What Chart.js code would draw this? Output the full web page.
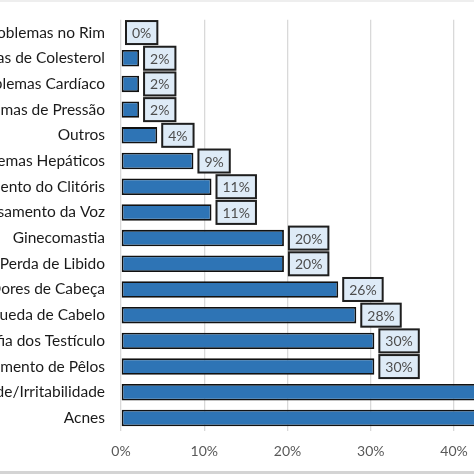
<!DOCTYPE html>
<html>
<head>
<meta charset="utf-8">
<script src="https://cdn.jsdelivr.net/npm/chart.js@4.4.1/dist/chart.umd.min.js"></script>
<style>
  html, body { margin: 0; padding: 0; background: #fff; }
  body { width: 474px; height: 474px; overflow: hidden; position: relative; }
  #wrap { position: absolute; left: -150px; top: 0; width: 713px; height: 474px; }
  #topStrip { position: absolute; left: 0; top: 0; width: 474px; height: 2px; background: #eeeeee; }
  #botStrip { position: absolute; left: 0; bottom: 0; width: 474px; height: 3px; background: #d4d4d4; }
</style>
</head>
<body>
<div id="wrap"><canvas id="chart" width="713" height="474"></canvas></div>
<div id="topStrip"></div>
<div id="botStrip"></div>
<script>
// ===== DATA =====
const categories = [
  "Problemas no Rim",
  "Problemas de Colesterol",
  "Problemas Cardíaco",
  "Problemas de Pressão",
  "Outros",
  "Problemas Hepáticos",
  "Aumento do Clitóris",
  "Engrossamento da Voz",
  "Ginecomastia",
  "Perda de Libido",
  "Dores de Cabeça",
  "Queda de Cabelo",
  "Atrofia dos Testículo",
  "Crescimento de Pêlos",
  "Agressividade/Irritabilidade",
  "Acnes"
]
const values = [0, 2.17, 2.17, 2.17, 4.35, 8.7, 10.87, 10.87, 19.57, 19.57, 26.09, 28.26, 30.43, 30.43, 45.65, 47.83]
const xTicks = [0, 10, 20, 30, 40, 50]

// ===== VALUE LABEL BOXES =====
const boxLabels = {
  id: "boxLabels",
  afterDatasetsDraw(chart) {
    const ctx = chart.ctx
    const meta = chart.getDatasetMeta(0)
    ctx.save()
    ctx.font = "14px Lato"
    ctx.textAlign = "center"
    ctx.textBaseline = "middle"
    meta.data.forEach((bar, i) => {
      const txt = Math.round(values[i]) + "%"
      const w = ctx.measureText(txt).width + 12
      const h = 23
      const x = bar.x + 5
      const y = bar.y - h / 2
      ctx.fillStyle = "#deebf7"
      ctx.fillRect(x, y, w, h)
      ctx.lineWidth = 2
      ctx.strokeStyle = "#1e1e1e"
      ctx.strokeRect(x, y, w, h)
      ctx.fillStyle = "#4d4d4d"
      ctx.fillText(txt, x + w / 2, bar.y + 1)
    })
    ctx.restore()
  }
}

// ===== CHART =====
new Chart(document.getElementById("chart").getContext("2d"), {
  type: "bar",
  data: {
    labels: categories,
    datasets: [{
      data: values,
      backgroundColor: "#2e74b5",
      borderColor: "#111111",
      borderWidth: 1.8,
      borderSkipped: false,
      barPercentage: 0.64,
      categoryPercentage: 1
    }]
  },
  options: {
    indexAxis: "y",
    responsive: false,
    animation: false,
    layout: { padding: { top: 19.7, right: 0, left: 0, bottom: 0 } },
    plugins: { legend: { display: false }, tooltip: { enabled: false } },
    scales: {
      x: {
        min: 0, max: 50,
        afterBuildTicks: axis => { axis.ticks = xTicks.map(v => ({ value: v })) },
        afterFit: axis => { axis.height = 43.2 },
        grid: { color: "#d9d9d9", lineWidth: 1.3, drawTicks: false },
        border: { display: false },
        ticks: {
          padding: 12,
          color: "#595959",
          font: { family: "Lato", size: 14 },
          callback: v => v + "%"
        }
      },
      y: {
        afterFit: axis => {
          axis.width = 271
          axis.paddingTop = 0
          axis.paddingBottom = 0
        },
        grid: { display: false, drawTicks: false },
        border: { display: false },
        ticks: {
          padding: 16,
          color: "#1a1a1a",
          font: { family: "Lato", size: 15.5 },
          autoSkip: false
        }
      }
    }
  },
  plugins: [boxLabels]
})
</script>
</body>
</html>
